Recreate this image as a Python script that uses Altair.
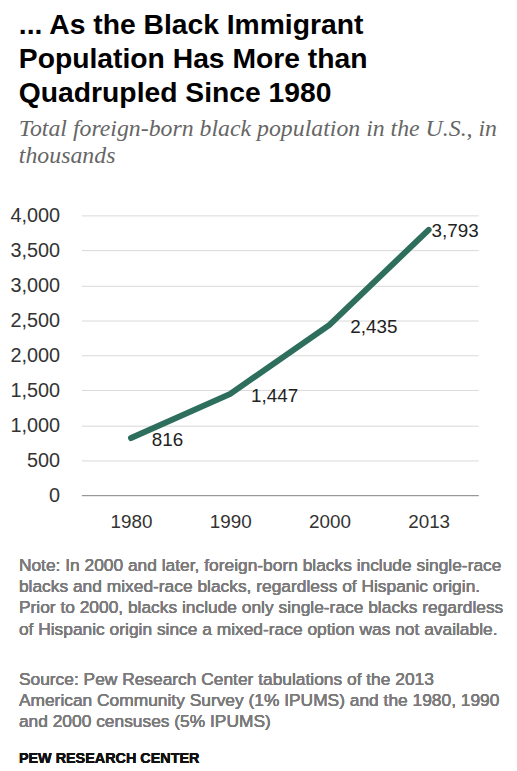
import altair as alt
import pandas as pd

# data
years = ["1980", "1990", "2000", "2013"]
population = [816, 1447, 2435, 3793]
y_ticks = [0, 500, 1000, 1500, 2000, 2500, 3000, 3500, 4000]

title_lines = [
    "... As the Black Immigrant",
    "Population Has More than",
    "Quadrupled  Since 1980",
]
subtitle_lines = [
    "Total foreign-born black population in the U.S., in",
    "thousands",
]
note_lines = [
    "Note: In 2000 and later, foreign-born blacks include single-race",
    "blacks and mixed-race blacks, regardless of Hispanic origin.",
    "Prior to 2000,  blacks include only single-race blacks regardless",
    "of Hispanic origin since a mixed-race option was not available.",
]
source_lines = [
    "Source: Pew Research Center tabulations of the 2013",
    "American Community Survey (1% IPUMS) and the 1980, 1990",
    "and 2000  censuses (5% IPUMS)",
]
credit = "PEW RESEARCH CENTER"

c_line = "#2e6e5c"
c_grey = "#7a7a7a"
c_font = "Liberation Sans"

df = pd.DataFrame({"year": years, "population": population})
df["label"] = df["population"].map("{:,}".format)

x_enc = alt.X(
    "year:O",
    title=None,
    axis=alt.Axis(
        labelAngle=0, ticks=False, grid=False, domainColor="#8c8c8c",
        labelPadding=18, labelFontSize=19, labelColor="#333333",
        labelFont=c_font,
    ),
)
y_enc = alt.Y(
    "population:Q",
    title=None,
    scale=alt.Scale(domain=[0, 4000]),
    axis=alt.Axis(
        values=y_ticks, format=",d", domain=False, ticks=False,
        gridColor="#d9d9d9", labelPadding=22, labelFontSize=20,
        labelColor="#333333", labelFont=c_font, labelOverlap=False,
    ),
)

base = alt.Chart(df)

line = base.mark_line(strokeWidth=6, strokeCap="round", color=c_line).encode(
    x=x_enc, y=y_enc
)

labels = base.transform_filter(alt.datum.year != "2013").mark_text(
    align="left", baseline="middle", dx=21, dy=2, fontSize=19, font=c_font,
    color="#222222",
).encode(x=x_enc, y=y_enc, text="label:N")

last_label = base.transform_filter(alt.datum.year == "2013").mark_text(
    align="left", baseline="middle", dx=3, dy=1, fontSize=19, font=c_font,
    color="#222222",
).encode(x=x_enc, y=y_enc, text="label:N")

note = base.mark_text(
    align="left", baseline="alphabetic", fontSize=17.5, font=c_font,
    color=c_grey, lineBreak="\n", lineHeight=21.5,
).encode(x=alt.value(-63), y=alt.value(358), text=alt.value("\n".join(note_lines)))

source = base.mark_text(
    align="left", baseline="alphabetic", fontSize=17.5, font=c_font,
    color=c_grey, lineBreak="\n", lineHeight=21.5,
).encode(x=alt.value(-63), y=alt.value(473), text=alt.value("\n".join(source_lines)))

pew = base.mark_text(
    align="left", baseline="alphabetic", fontSize=14.5, font=c_font,
    fontWeight="bold", color="#111111",
).encode(x=alt.value(-63), y=alt.value(552), text=alt.value(credit))

chart = (line + labels + last_label + note + source + pew).properties(
    width=400,
    height=282,
    padding={"left": 1, "top": 0, "right": 0, "bottom": 0},
    title=alt.TitleParams(
        text=title_lines,
        subtitle=subtitle_lines,
        anchor="start",
        frame="bounds",
        dx=9,
        font=c_font,
        fontSize=28.5,
        fontWeight="bold",
        color="#000000",
        lineHeight=34,
        subtitleFont="Liberation Serif",
        subtitleFontStyle="italic",
        subtitleFontSize=24,
        subtitleColor="#666666",
        subtitleLineHeight=27,
        subtitlePadding=10,
        offset=38,
    ),
).configure_view(strokeWidth=0)

chart.save("out.html", embed_options={"renderer": "svg", "actions": False})
